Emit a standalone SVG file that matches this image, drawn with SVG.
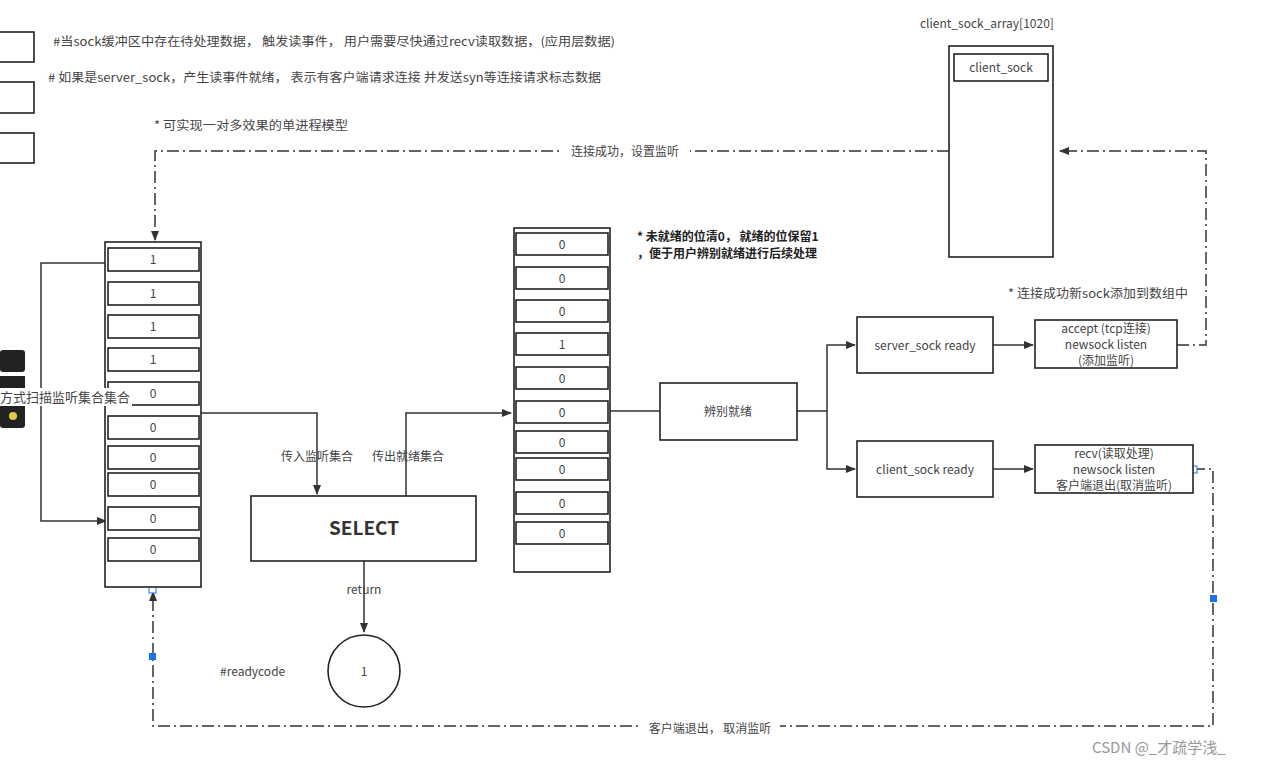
<svg xmlns="http://www.w3.org/2000/svg" width="1279" height="766" viewBox="0 0 1279 766">
<defs>
<style>
text{font-family:"Noto Sans CJK SC","Noto Sans",sans-serif;font-size:12px;fill:#444}
.c{text-anchor:middle}
.b{fill:#fff;stroke:#222;stroke-width:1.6}
.l{fill:none;stroke:#333;stroke-width:1.5}
.d{fill:none;stroke:#333;stroke-width:1.5;stroke-dasharray:12,4,2,4}
</style>
<marker id="a" markerWidth="10" markerHeight="8" refX="9" refY="4" orient="auto" markerUnits="userSpaceOnUse"><path d="M0,0L10,4L0,8z" fill="#333"/></marker>
</defs>
<rect width="1279" height="766" fill="#fff"/>
<g id="notes">
<rect class="b" x="-5" y="32" width="39" height="30"/>
<rect class="b" x="-5" y="82" width="39" height="31"/>
<rect class="b" x="-5" y="133" width="39" height="30"/>
<text x="53" y="46" textLength="562" lengthAdjust="spacingAndGlyphs">#当sock缓冲区中存在待处理数据， 触发读事件， 用户需要尽快通过recv读取数据，(应用层数据)</text>
<text x="48" y="82" textLength="553" lengthAdjust="spacingAndGlyphs"># 如果是server_sock，产生读事件就绪， 表示有客户端请求连接 并发送syn等连接请求标志数据</text>
<text x="154" y="130" textLength="194" lengthAdjust="spacingAndGlyphs">* 可实现一对多效果的单进程模型</text>
<text x="637" y="241" style="font-weight:bold;fill:#222">* 未就绪的位清0，  就绪的位保留1</text>
<text x="637" y="258" style="font-weight:bold;fill:#222">，便于用户辨别就绪进行后续处理</text>
<text x="1008" y="298" textLength="180" lengthAdjust="spacingAndGlyphs">* 连接成功新sock添加到数组中</text>
<text x="920" y="28">client_sock_array[1020]</text>
<text x="220" y="676">#readycode</text>
<text x="1092" y="753" style="font-size:15px;fill:#999">CSDN @_才疏学浅_</text>
</g>
<g id="device">
<rect x="0" y="350" width="25" height="22" rx="3" fill="#222"/>
<rect x="0" y="376" width="25" height="12" fill="#222"/>
<rect x="0" y="404" width="25" height="24" rx="3" fill="#222"/>
<circle cx="13" cy="416" r="4" fill="#e8c640"/>
</g>
<g id="connectors">
<path class="l" d="M108,263H41V521H106" marker-end="url(#a)"/>
<path class="l" d="M201,413H317V494" marker-end="url(#a)"/>
<path class="l" d="M406,496V413H511" marker-end="url(#a)"/>
<path class="l" d="M364,561V632" marker-end="url(#a)"/>
<path class="l" d="M610,411H660"/>
<path class="l" d="M797,411H827V345H855" marker-end="url(#a)"/>
<path class="l" d="M827,411V469H855" marker-end="url(#a)"/>
<path class="l" d="M993,345H1033" marker-end="url(#a)"/>
<path class="l" d="M993,469H1033" marker-end="url(#a)"/>
<path class="d" d="M1177,345H1206V151H1060" marker-end="url(#a)"/>
<path class="d" d="M949,151H155V240" marker-end="url(#a)"/>
<path class="d" d="M1193,469H1213V726H153V592" marker-end="url(#a)"/>
<rect x="560" y="143" width="130" height="16" fill="#fff"/>
<text x="625" y="156" class="c">连接成功，设置监听</text>
<rect x="640" y="720" width="140" height="16" fill="#fff"/>
<text x="710" y="733" class="c">客户端退出， 取消监听</text>
<text x="317" y="461" class="c">传入监听集合</text>
<text x="408" y="461" class="c">传出就绪集合</text>
<text x="364" y="594" class="c">return</text>
<rect x="149" y="586" width="7" height="7" fill="#fff" stroke="#1a73e8"/>
<rect x="149" y="653" width="7" height="7" fill="#1a73e8"/>
<rect x="1210" y="595" width="7" height="7" fill="#1a73e8"/>
<rect x="1190" y="466" width="7" height="7" fill="#fff" stroke="#1a73e8"/>
</g>
<g id="leftArray">
<rect class="b" x="105" y="242" width="96" height="345"/>
<g class="b"><rect x="108" y="248" width="91" height="23"/><rect x="108" y="282" width="91" height="23"/><rect x="108" y="315" width="91" height="23"/><rect x="108" y="348" width="91" height="23"/><rect x="108" y="382" width="91" height="23"/><rect x="108" y="416" width="91" height="23"/><rect x="108" y="446" width="91" height="23"/><rect x="108" y="473" width="91" height="23"/><rect x="108" y="507" width="91" height="23"/><rect x="108" y="538" width="91" height="23"/></g>
<g class="c"><text x="153" y="264">1</text><text x="153" y="298">1</text><text x="153" y="331">1</text><text x="153" y="364">1</text><text x="153" y="398">0</text><text x="153" y="432">0</text><text x="153" y="462">0</text><text x="153" y="489">0</text><text x="153" y="523">0</text><text x="153" y="554">0</text></g>
</g>
<g id="scanLabel">
<rect x="0" y="388" width="132" height="18" fill="#fff"/>
<text x="0" y="402" style="font-size:13px">方式扫描监听集合集合</text>
</g>
<g id="select"><rect class="b" x="251" y="496" width="225" height="65"/><text x="364" y="535" class="c" style="font-size:19px;font-weight:bold;fill:#333">SELECT</text></g>
<g id="readycode"><circle class="b" cx="364" cy="671" r="36"/><text x="364" y="676" class="c">1</text></g>
<g id="midArray">
<rect class="b" x="514" y="228" width="96" height="344"/>
<g class="b"><rect x="516" y="233" width="92" height="22"/><rect x="516" y="267" width="92" height="22"/><rect x="516" y="300" width="92" height="22"/><rect x="516" y="333" width="92" height="22"/><rect x="516" y="367" width="92" height="22"/><rect x="516" y="401" width="92" height="22"/><rect x="516" y="431" width="92" height="22"/><rect x="516" y="458" width="92" height="22"/><rect x="516" y="492" width="92" height="22"/><rect x="516" y="522" width="92" height="22"/></g>
<g class="c"><text x="562" y="249">0</text><text x="562" y="283">0</text><text x="562" y="316">0</text><text x="562" y="349">1</text><text x="562" y="383">0</text><text x="562" y="417">0</text><text x="562" y="447">0</text><text x="562" y="474">0</text><text x="562" y="508">0</text><text x="562" y="538">0</text></g>
</g>
<g id="judge"><rect class="b" x="660" y="383" width="137" height="57"/><text x="728" y="416" class="c">辨别就绪</text></g>
<g id="serverReady"><rect class="b" x="857" y="317" width="136" height="56"/><text x="925" y="350" class="c">server_sock ready</text></g>
<g id="clientReady"><rect class="b" x="857" y="441" width="136" height="56"/><text x="925" y="474" class="c">client_sock ready</text></g>
<g id="accept"><rect class="b" x="1035" y="320" width="142" height="48"/><text x="1106" y="333" class="c">accept (tcp连接)</text><text x="1106" y="349" class="c">newsock listen</text><text x="1106" y="365" class="c">(添加监听)</text></g>
<g id="recv"><rect class="b" x="1035" y="445" width="158" height="48"/><text x="1114" y="458" class="c">recv(读取处理)</text><text x="1114" y="474" class="c">newsock listen</text><text x="1114" y="490" class="c">客户端退出(取消监听)</text></g>
<g id="sockArray"><rect class="b" x="949" y="46" width="104" height="211"/><rect class="b" x="954" y="54" width="94" height="27"/><text x="1001" y="72" class="c">client_sock</text></g>
</svg>
